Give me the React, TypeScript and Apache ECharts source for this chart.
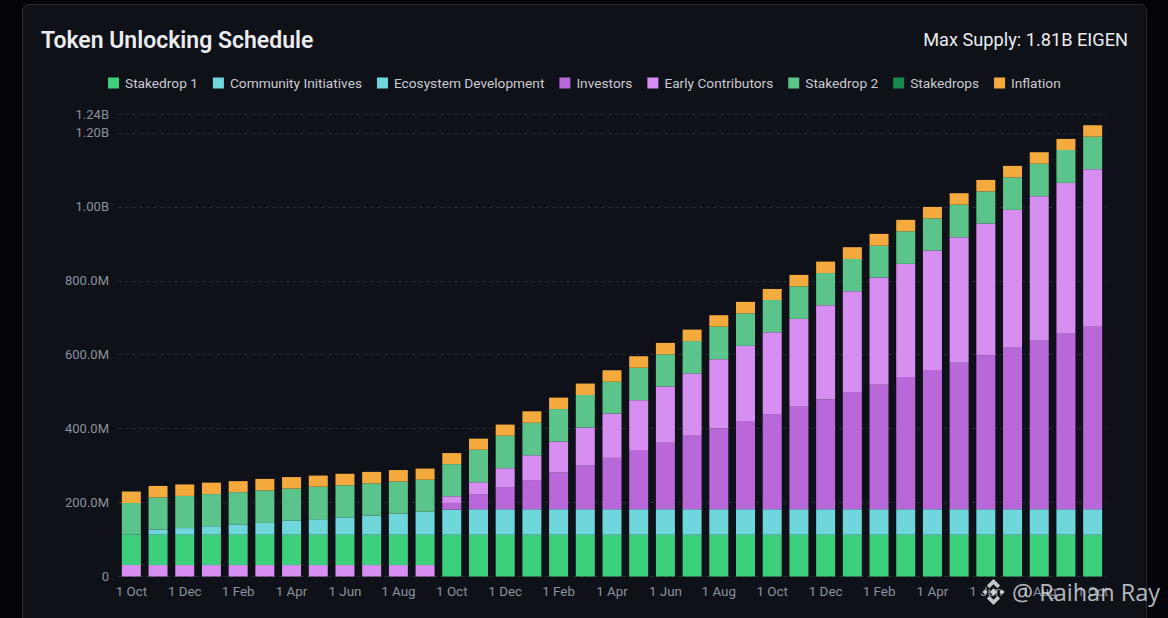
import React, { useEffect, useRef } from "react";
import * as echarts from "echarts";

const FONT = "Roboto, sans-serif";

const months = ["1 Oct","1 Nov","1 Dec","1 Jan","1 Feb","1 Mar","1 Apr","1 May","1 Jun","1 Jul","1 Aug","1 Sep"];
const categories: string[] = [...months, ...months, ...months, "1 Oct"];

const yTickLabels = ["0","200.0M","400.0M","600.0M","800.0M","1.00B","1.20B","1.24B"];

const legendOrder = ["Stakedrop 1","Community Initiatives","Ecosystem Development","Investors","Early Contributors","Stakedrop 2","Stakedrops","Inflation"];

// all values in millions of EIGEN
const earlyContributorsFirstYear = [31,31,31,31,31,31,31,31,31,31,31,31,0,0,0,0,0,0,0,0,0,0,0,0,0,0,0,0,0,0,0,0,0,0,0,0,0];
const stakedrop1 = [82,82,82,82,82,82,82,82,82,82,82,82,113,113,113,113,113,113,113,113,113,113,113,113,113,113,113,113,113,113,113,113,113,113,113,113,113];
const communityInitiatives: number[] = [];
const ecosystemDevelopment = [0,14,18,23,28,32,38,42,47,52,57,62,68,69,69,69,69,69,69,69,69,69,69,69,69,69,69,69,69,69,69,69,69,69,69,69,69];
const investors = [0,0,0,0,0,0,0,0,0,0,0,0,18,41,60,79,99,118,139,160,180,199,219,239,258,277,297,317,337,358,377,396,416,437,456,475,494];
const earlyContributors = [0,0,0,0,0,0,0,0,0,0,0,0,18,32,51,67,84,103,120,135,152,168,187,203,221,238,255,273,290,306,323,340,357,373,391,408,426];
const stakedrop2 = [86,87,87,87,87,88,87,88,87,87,87,87,87,88,88,88,88,88,86,88,87,88,88,88,87,88,87,87,86,88,87,88,87,88,88,89,88];
const stakedrops: number[] = [];
const inflation = [31,31,31,31,30,31,31,30,31,31,31,30,30,30,30,31,31,31,31,31,31,31,31,31,30,31,31,32,32,31,31,31,31,31,31,30,31];

const GREEN = "#3ccf7c";
const TEAL = "#6fd7dc";
const PURPLE = "#b968da";
const PINK = "#d68ef0";
const GREEN2 = "#5ac48b";
const DARK_GREEN = "#17894d";
const ORANGE = "#f4aa3c";

const bar = (name: string, data: number[], color: string) => ({
  name,
  type: "bar",
  stack: "total",
  data,
  barWidth: 19,
  itemStyle: { color },
  emphasis: { disabled: true },
});

function logoPoly(points: number[][]) {
  return {
    type: "polygon",
    shape: { points },
    style: { fill: "rgba(235,238,242,0.82)" },
    z: 100,
  };
}

export default function App() {
  const ref = useRef<HTMLDivElement>(null);
  useEffect(() => {
    const chart = echarts.init(ref.current!, undefined, { renderer: "svg" });
    const cx = 993.5;
    const cy = 592;
    const p = (pts: number[][]) => pts.map(([a, b]) => [cx + a, cy + b]);
    chart.setOption({
      animation: false,
      backgroundColor: "transparent",
      textStyle: { fontFamily: FONT },
      title: [
        {
          text: "Token Unlocking Schedule",
          left: 41,
          top: 29,
          padding: 0,
          textStyle: { color: "#eaecef", fontSize: 23, fontWeight: 600, fontFamily: FONT },
        },
        {
          text: "Max Supply: 1.81B EIGEN",
          right: 40,
          top: 30,
          padding: 0,
          textStyle: { color: "#eaecef", fontSize: 18.2, fontWeight: 400, fontFamily: FONT },
        },
      ],
      legend: {
        data: legendOrder,
        left: 108,
        top: 76,
        padding: 0,
        itemWidth: 11,
        itemHeight: 11,
        itemGap: 15,
        icon: "rect",
        selectedMode: false,
        textStyle: { color: "#c9ccd2", fontSize: 13.7, padding: [0, 0, 0, 1], fontFamily: FONT },
      },
      grid: { left: 118, top: 114.5, right: 62, height: 462, containLabel: false },
      xAxis: {
        type: "category",
        data: categories,
        boundaryGap: true,
        axisLine: { show: false },
        axisTick: { show: false },
        axisLabel: { color: "#8b929d", fontSize: 13.4, interval: 1, margin: 8, fontFamily: FONT, hideOverlap: false },
      },
      yAxis: {
        type: "value",
        min: 0,
        max: 1250,
        interval: 200,
        axisLine: { show: false },
        axisTick: { show: false },
        splitLine: { lineStyle: { color: "#272a31", type: [4, 3], width: 1 } },
        axisLabel: {
          color: "#8b929d",
          fontSize: 13,
          margin: 9,
          fontFamily: FONT,
          formatter: (_v: number, i: number) => yTickLabels[i],
        },
      },
      series: [
        bar("Early Contributors", earlyContributorsFirstYear, PINK),
        bar("Stakedrop 1", stakedrop1, GREEN),
        bar("Community Initiatives", communityInitiatives, TEAL),
        bar("Ecosystem Development", ecosystemDevelopment, TEAL),
        bar("Investors", investors, PURPLE),
        bar("Early Contributors", earlyContributors, PINK),
        bar("Stakedrop 2", stakedrop2, GREEN2),
        bar("Stakedrops", stakedrops, DARK_GREEN),
        bar("Inflation", inflation, ORANGE),
      ],
      graphic: [
        logoPoly(p([[0, -3.8], [3.8, 0], [0, 3.8], [-3.8, 0]])),
        logoPoly(p([[-8.6, -2.6], [-6, 0], [-8.6, 2.6], [-11.2, 0]])),
        logoPoly(p([[8.6, -2.6], [11.2, 0], [8.6, 2.6], [6, 0]])),
        logoPoly(p([[0, -13], [6.6, -6.4], [4, -3.8], [0, -7.8], [-4, -3.8], [-6.6, -6.4]])),
        logoPoly(p([[0, 13], [6.6, 6.4], [4, 3.8], [0, 7.8], [-4, 3.8], [-6.6, 6.4]])),
        {
          type: "text",
          x: 1012,
          y: 592,
          z: 100,
          style: {
            text: "@ Raihan Ray",
            fill: "rgba(226,229,233,0.8)",
            fontSize: 23.5,
            fontFamily: "'Open Sans', sans-serif",
            verticalAlign: "middle",
            align: "left",
          },
        },
      ],
    });
    return () => chart.dispose();
  }, []);
  return (
    <div style={{ position: "fixed", left: 0, top: 0, width: 1168, height: 618, background: "#03040a", overflow: "hidden" }}>
      <div
        style={{
          position: "absolute",
          left: 22,
          top: 4,
          width: 1125,
          height: 640,
          boxSizing: "border-box",
          background: "#0f1118",
          border: "1px solid #2a2d34",
          borderRadius: 7,
        }}
      />
      <div ref={ref} style={{ position: "absolute", left: 0, top: 0, width: 1168, height: 618 }} />
    </div>
  );
}
